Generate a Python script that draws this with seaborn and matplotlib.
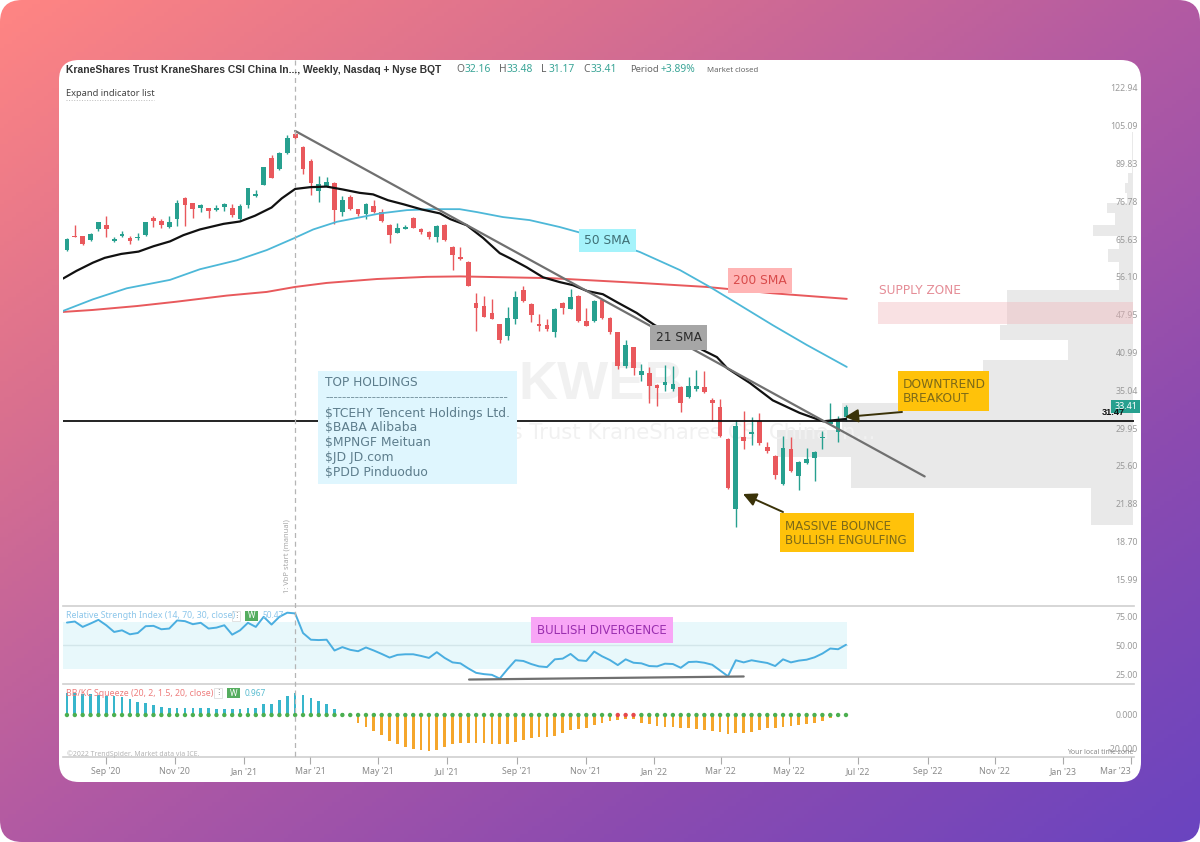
import numpy as np
import matplotlib
matplotlib.use('Agg')
import matplotlib.pyplot as plt
from matplotlib.colors import LinearSegmentedColormap
from matplotlib.patches import FancyBboxPatch, Rectangle, FancyArrowPatch
import seaborn as sns

sns.set_theme(style='white')
plt.rcParams['font.family'] = ['DejaVu Sans']

# weekly candles, one per week, oldest first
open_prices = [62.7, 66.6, 66.5, 65.3, 68.5, 69.6, 65.2, 66.5, 65.8, 65.9,
               66.7, 71.5, 70.8, 68.9, 71.4, 77.9, 76.1, 74.7, 74.7, 73.9,
               75.0, 74.6, 71.2, 75.6, 78.4, 82.2, 91.8, 87.6, 93.9, 101.7,
               96.0, 90.8, 80.0, 81.7, 82.9, 73.3, 78.0, 74.2, 72.8, 75.2,
               73.4, 69.7, 67.4, 68.5, 71.6, 68.3, 67.7, 66.3, 69.6, 63.6,
               61.0, 59.6, 50.4, 49.8, 48.3, 46.1, 43.9, 47.0, 53.2, 50.2,
               46.2, 45.9, 44.6, 50.4, 49.1, 51.8, 46.8, 46.8, 50.9, 47.3,
               44.6, 38.8, 41.9, 37.3, 37.7, 35.8, 35.8, 35.2, 35.5, 34.1,
               35.2, 35.5, 33.7, 32.7, 28.6, 21.4, 28.8, 29.2, 30.8, 27.7,
               26.7, 23.7, 27.4, 24.5, 25.9, 26.4, 28.7, 30.5, 29.5, 31.3]
close_prices = [65.6, 66.3, 64.3, 67.1, 70.3, 68.3, 65.6, 67.1, 65.0, 66.3,
                70.4, 70.6, 69.5, 70.4, 76.1, 75.6, 74.5, 75.7, 73.6, 74.7,
                76.0, 72.4, 75.2, 81.0, 79.1, 88.4, 84.7, 93.9, 100.0, 99.8,
                87.6, 82.9, 82.4, 83.0, 73.9, 77.1, 74.3, 72.8, 76.0, 73.4,
                70.6, 66.7, 68.7, 69.0, 68.8, 67.5, 66.3, 69.3, 65.3, 61.3,
                60.4, 54.1, 49.3, 47.5, 47.1, 43.1, 47.3, 51.5, 50.7, 47.9,
                45.8, 45.1, 49.0, 49.2, 51.6, 46.8, 45.8, 50.8, 47.3, 44.6,
                38.8, 42.2, 38.5, 38.0, 35.6, 35.3, 36.3, 35.9, 33.3, 35.6,
                35.7, 34.8, 33.3, 29.0, 23.4, 30.2, 28.4, 29.5, 28.1, 27.2,
                24.6, 27.6, 25.1, 26.0, 26.3, 27.1, 28.8, 30.6, 30.8, 32.7]
high_prices = [65.8, 69.7, 66.6, 67.4, 70.4, 72.1, 66.1, 68.0, 66.4, 67.2,
               70.5, 72.1, 71.4, 72.1, 77.1, 78.0, 76.3, 75.8, 74.8, 75.5,
               76.2, 75.8, 76.0, 81.1, 80.6, 88.6, 93.0, 94.0, 101.0, 102.8,
               96.5, 91.6, 85.2, 85.0, 83.1, 78.4, 78.8, 74.4, 76.2, 77.3,
               74.4, 69.9, 70.2, 69.6, 71.8, 68.6, 68.0, 69.5, 69.8, 63.7,
               63.5, 59.8, 52.5, 51.8, 51.1, 46.2, 49.5, 52.9, 54.0, 50.3,
               48.0, 47.1, 49.2, 50.6, 53.4, 52.0, 49.2, 50.9, 51.1, 47.4,
               44.7, 43.2, 42.0, 39.0, 38.6, 35.9, 38.9, 38.8, 35.6, 37.0,
               38.1, 37.9, 34.0, 33.8, 28.7, 31.0, 32.1, 31.4, 31.9, 28.3,
               26.8, 29.0, 28.9, 26.1, 27.6, 27.2, 29.6, 33.3, 31.5, 33.0]
low_prices = [62.5, 66.1, 64.0, 65.2, 67.9, 66.1, 64.7, 66.3, 64.3, 65.4,
              66.5, 69.1, 68.7, 68.6, 69.3, 69.3, 71.7, 73.5, 71.5, 73.8,
              73.8, 72.0, 71.0, 74.8, 78.0, 82.0, 84.4, 87.3, 93.6, 99.5,
              86.1, 78.8, 76.6, 81.5, 70.0, 72.2, 74.1, 72.3, 71.2, 73.2,
              70.4, 64.5, 67.2, 68.3, 68.6, 67.0, 65.6, 64.7, 65.1, 57.7,
              60.2, 53.9, 44.8, 47.4, 47.0, 42.6, 43.2, 46.2, 50.6, 46.5,
              44.9, 44.9, 43.7, 48.1, 49.0, 46.6, 45.7, 46.6, 47.1, 44.3,
              38.2, 38.5, 37.4, 36.4, 33.2, 32.8, 35.0, 34.9, 32.0, 34.0,
              35.0, 34.6, 30.9, 28.9, 23.3, 19.9, 27.4, 27.9, 27.9, 27.0,
              24.2, 23.6, 25.0, 23.2, 25.8, 24.0, 27.5, 30.5, 28.3, 30.9]

# moving averages at a few weeks each
sma21_weeks = [-0.5, 1.2, 3.3, 4.8, 6.9, 9.1, 11.0, 13.1, 14.8, 16.9, 19.9, 22.0, 23.9, 26.0, 27.3, 29.0,
               30.9, 33.0, 35.1, 37.2, 38.9, 40.8, 42.8, 45.1, 47.4, 48.7, 50.8, 52.9, 55.0, 56.3, 58.4,
               60.5, 62.6, 64.3, 66.1, 68.1, 69.9, 72.4, 74.7, 77.9, 80.8, 82.6, 83.9, 86.8, 89.7, 93.1, 96.1, 99.0]
sma21_values = [55.7, 57.5, 59.5, 60.7, 61.7, 62.3, 63.7, 65.0, 66.7, 68.3, 69.9, 70.6, 72.3, 74.8, 77.7, 80.8,
                81.4, 81.6, 80.6, 79.5, 79.0, 77.1, 75.8, 74.2, 73.0, 71.3, 69.5, 65.9, 61.9, 60.6, 58.4,
                56.0, 54.9, 54.2, 52.9, 52.2, 50.5, 48.3, 45.9, 43.5, 41.4, 40.2, 38.4, 36.1, 33.6, 31.9, 30.8, 31.1]
sma50_weeks = [-0.5, 3.3, 7.6, 13.1, 16.9, 21.6, 25.4, 28.8, 31.3, 34.3, 37.2, 39.8, 43.2, 46.6, 49.9, 52.1,
               55.4, 58.8, 62.6, 67.7, 72.8, 77.9, 81.7, 85.5, 89.7, 94.0, 99.1]
sma50_values = [48.7, 51.1, 53.5, 55.4, 57.9, 60.1, 62.7, 65.8, 68.3, 70.5, 71.8, 73.0, 74.0, 74.3, 74.3, 73.4,
                71.9, 71.0, 69.0, 65.9, 62.2, 57.7, 53.8, 49.9, 45.9, 42.3, 38.6]
sma200_weeks = [-0.5, 3.3, 8.9, 13.9, 20.3, 25.4, 29.0, 33.0, 39.4, 45.7, 50.0, 61.4, 72.8, 81.3, 89.7, 99.1]
sma200_values = [48.5, 48.9, 49.7, 50.6, 51.9, 52.7, 53.8, 54.7, 55.6, 56.1, 56.2, 55.8, 54.7, 53.8, 52.4, 51.2]

trend_weeks = [29, 109]
trend_prices = [102.8, 24.5]
# where the black level line sits on the price scale in the picture
level_price = 30.85

# volume by price, bands on the right edge
vp_low = [86.3, 82.8, 79.4, 76.2, 73.1, 69.5, 66.4, 62.9, 59.6, 53.1, 45.9, 43.2, 39.7, 33.2, 29.7, 26.55, 23.35, 20.0]
vp_high = [102.3, 86.3, 82.8, 79.4, 76.2, 73.1, 69.5, 66.4, 62.9, 59.6, 53.1, 45.9, 43.2, 39.7, 33.2, 29.7, 26.55, 23.35]
vp_volume = [0.13, 0.64, 1.0, 0.76, 3.3, 2.3, 5.1, 1.8, 3.2, 1.8, 16.0, 16.9, 8.3, 19.1, 37.0, 45.2, 35.8, 5.3]

rsi_values = [69.5, 70.4, 65.8, 68.7, 71.8, 67.2, 61.5, 62.9, 59.5, 60.6,
              66.4, 66.7, 63.8, 64.4, 71.3, 70.7, 68.1, 69.3, 64.4, 65.2,
              67.2, 59.2, 62.9, 69.3, 65.8, 74.4, 67.8, 74.4, 77.9, 77.3,
              60.6, 54.9, 54.6, 54.9, 45.7, 48.6, 46.3, 45.1, 48.3, 45.7,
              42.8, 39.7, 42.0, 42.5, 42.5, 41.1, 39.4, 44.3, 39.4, 35.6,
              34.8, 30.5, 26.7, 25.6, 25.0, 21.8, 29.9, 37.4, 36.8, 34.2,
              32.2, 31.6, 38.2, 38.8, 42.8, 37.4, 36.8, 44.8, 40.8, 37.6,
              33.3, 38.2, 35.3, 34.8, 32.5, 32.2, 34.5, 34.2, 31.0, 35.9,
              36.2, 35.3, 33.6, 28.7, 23.8, 37.4, 35.6, 37.4, 36.2, 35.1,
              32.5, 38.2, 35.6, 37.1, 37.9, 39.9, 43.1, 47.4, 46.8, 50.6]
divergence_weeks = [51.1, 86.0]
divergence_rsi = [21.0, 23.6]

squeeze_values = [12.8, 12.8, 12.4, 12.2, 11.8, 11.4, 11.4, 10.8, 9.2, 7.9,
                  6.9, 5.7, 4.9, 3.9, 3.9, 3.9, 4.1, 4.3, 3.9, 3.3,
                  3.5, 3.5, 3.3, 3.9, 4.3, 6.3, 6.5, 8.9, 11.0, 12.8,
                  11.8, 10.2, 8.5, 6.3, 3.5, 1.0, 0.6, -4.9, -6.9, -9.2,
                  -11.8, -15.1, -17.1, -18.7, -20.1, -20.7, -21.4, -20.7, -18.9, -17.1,
                  -16.7, -16.7, -16.5, -16.7, -16.9, -17.3, -17.3, -15.9, -14.9, -13.8,
                  -13.2, -12.8, -12.2, -10.4, -8.9, -8.5, -7.9, -5.9, -4.9, -3.5,
                  -3.0, -2.6, -2.6, -4.5, -5.3, -6.3, -6.9, -7.3, -7.5, -7.9,
                  -8.3, -8.9, -9.4, -9.8, -11.0, -10.4, -10.4, -9.8, -8.9, -7.9,
                  -7.5, -7.1, -6.5, -5.9, -5.3, -4.9, -3.3, -2.0, 0.3, 0.967]
squeeze_on_weeks = [70, 71, 72]

price_ticks = [122.94, 105.09, 89.83, 76.78, 65.63, 56.10, 47.95, 40.99, 35.04, 29.95, 25.60, 21.88, 18.70, 15.99]
price_labels = ['122.94', '105.09', '89.83', '76.78', '65.63', '56.10', '47.95', '40.99', '35.04', '29.95',
                '25.60', '21.88', '18.70', '15.99']
date_ticks = [4.96, 13.7, 22.5, 30.9, 39.5, 48.3, 57.2, 65.9, 74.6, 83.1, 91.7, 100.5, 109.4, 117.9, 126.6, 135.2]
date_labels = ["Sep '20", "Nov '20", "Jan '21", "Mar '21", "May '21", "Jul '21", "Sep '21", "Nov '21",
               "Jan '22", "Mar '22", "May '22", "Jul '22", "Sep '22", "Nov '22", "Jan '23", "Mar '23"]
holdings = ['$TCEHY Tencent Holdings Ltd.', '$BABA Alibaba', '$MPNGF Meituan', '$JD JD.com', '$PDD Pinduoduo']

GREEN = '#27a08f'
RED = '#e9585c'
W, H = 1200, 842
UI_FONT = 'Noto Sans'
BOLD_FONT = 'Liberation Sans'


def axes_px(x0, y0, x1, y1, **kw):
    # axes from picture pixels, y going down
    return fig.add_axes([x0 / W, 1 - y1 / H, (x1 - x0) / W, (y1 - y0) / H], **kw)


def right_labels(axis):
    # value labels sit inside the plot, flush with the right edge
    axis.set_axisbelow(False)
    axis.yaxis.tick_right()
    axis.tick_params(axis='y', length=0, pad=3, labelsize=6.3, labelcolor='#9a9a9a')
    for lab in axis.get_yticklabels():
        lab.set_horizontalalignment('right')
        lab.set_family(UI_FONT)


weeks = np.arange(len(open_prices))
opens = np.array(open_prices)
closes = np.array(close_prices)
up = closes >= opens
week_min, week_max = -0.5, 135.6

fig = plt.figure(figsize=(W / 100, H / 100), dpi=100, facecolor='white')

# gradient behind the card
bg = fig.add_axes([0, 0, 1, 1], zorder=-2)
bg.axis('off')
gx, gy = np.meshgrid(np.linspace(0, 1, 300), np.linspace(0, 1, 210))
grad = LinearSegmentedColormap.from_list('g', ['#ff8583', '#d9708f', '#b25aa3', '#8c4bb0', '#6a44c0'])
img = bg.imshow((gx + gy) / 2, cmap=grad, extent=(0, W, H, 0), aspect='auto', vmin=0, vmax=1)
bg.set_xlim(0, W)
bg.set_ylim(H, 0)
outer = FancyBboxPatch((16, 16), W - 32, H - 32, boxstyle='round,pad=16,rounding_size=22',
                       transform=bg.transData, fc='none', ec='none')
bg.add_patch(outer)
img.set_clip_path(outer)
bg.add_patch(FancyBboxPatch((79, 80), 1042, 682, boxstyle='round,pad=20,rounding_size=20',
                            fc='white', ec='none'))

# price panel
ax = axes_px(63, 80, 1134, 606, facecolor='none')
ax.set_yscale('log')
vp_low_arr = np.array(vp_low)
vp_high_arr = np.array(vp_high)
vp_vol_arr = np.array(vp_volume)
ax.barh(vp_low_arr, vp_vol_arr, height=vp_high_arr - vp_low_arr, left=135.45 - vp_vol_arr,
        align='edge', color='#e9e9e9', linewidth=0, zorder=1)
ax.text(67.9, 35.8, 'KWEB', fontsize=39, fontweight='bold', family=BOLD_FONT, color='#f1f1f1',
        ha='center', va='center', zorder=1.5)
ax.text(102.7, 29.3, 'KraneShares Trust KraneShares CSI China In...', fontsize=15.2, color='#f1f1f1',
        ha='right', va='center', zorder=1.5)

ax.vlines(weeks, low_prices, high_prices, colors=[GREEN if u else RED for u in up], linewidth=1.0, zorder=3)
ax.bar(weeks, np.maximum(np.abs(closes - opens), 0.15), bottom=np.minimum(opens, closes), width=0.6,
       color=[GREEN if u else RED for u in up], linewidth=0, zorder=3)

ax.axhline(level_price, color='#111111', linewidth=1.3, zorder=4)
sns.lineplot(x=sma200_weeks, y=sma200_values, ax=ax, color='#e8595c', linewidth=1.4, estimator=None, zorder=4)
sns.lineplot(x=sma50_weeks, y=sma50_values, ax=ax, color='#4db8d8', linewidth=1.3, estimator=None, zorder=4)
sns.lineplot(x=sma21_weeks, y=sma21_values, ax=ax, color='#111111', linewidth=1.6, estimator=None, zorder=5)
sns.lineplot(x=trend_weeks, y=trend_prices, ax=ax, color='#707070', linewidth=1.6, estimator=None, zorder=5)

ax.set_xlim(week_min, week_max)
ax.set_ylim(14.31, 127)
ax.set_xticks([])
ax.set_yticks(price_ticks, price_labels)
ax.minorticks_off()
right_labels(ax)
sns.despine(ax=ax, left=True, right=True, top=True, bottom=True)
ax.set_xlabel('')
ax.set_ylabel('')

# RSI panel
ax_rsi = axes_px(63, 606, 1134, 684, facecolor='none')
ax_rsi.fill_between([week_min, 99.1], 30, 70, color='#e8f8fb', linewidth=0, zorder=1)
ax_rsi.plot([week_min, 99.1], [50, 50], color='#d3e6ea', linewidth=1, zorder=2)
sns.lineplot(x=weeks, y=rsi_values, ax=ax_rsi, color='#4aaee0', linewidth=1.4, estimator=None, zorder=3)
sns.lineplot(x=divergence_weeks, y=divergence_rsi, ax=ax_rsi, color='#707070', linewidth=1.6, estimator=None, zorder=4)
ax_rsi.set_xlim(week_min, week_max)
ax_rsi.set_ylim(17.2, 83.6)
ax_rsi.set_xticks([])
ax_rsi.set_yticks([25, 50, 75], ['25.00', '50.00', '75.00'])
right_labels(ax_rsi)
sns.despine(ax=ax_rsi, left=True, right=True, bottom=True, top=False)
ax_rsi.spines['top'].set_color('#cfcfcf')
ax_rsi.spines['top'].set_linewidth(1.2)

# squeeze panel
ax_sq = axes_px(63, 684, 1134, 757, facecolor='none')
vals = np.array(squeeze_values)
ax_sq.bar(weeks, vals, width=0.34, color=['#38b6cc' if v > 0 else '#f5a62b' for v in vals], linewidth=0, zorder=2)
dot_colors = ['#e5484d' if w in squeeze_on_weeks else '#4caf50' for w in weeks]
ax_sq.scatter(weeks, np.zeros(len(weeks)), s=10, c=dot_colors, linewidths=0, zorder=3)
ax_sq.set_xlim(week_min, week_max)
ax_sq.set_ylim(-24.8, 18.3)
ax_sq.set_yticks([0, -20], ['0.000', '-20.000'])
right_labels(ax_sq)
ax_sq.set_xticks(date_ticks, date_labels)
ax_sq.tick_params(axis='x', bottom=True, length=5, width=0.8, color='#aaaaaa', pad=2, labelsize=6.3, labelcolor='#8a8a8a')
for lab in ax_sq.get_xticklabels():
    lab.set_family(UI_FONT)
ax_sq.get_xticklabels()[-1].set_horizontalalignment('right')
sns.despine(ax=ax_sq, left=True, right=True, bottom=False, top=False)
for side in ['top', 'bottom']:
    ax_sq.spines[side].set_color('#cfcfcf')
    ax_sq.spines[side].set_linewidth(1.2)

# annotations, placed in picture pixels
ov = fig.add_axes([0, 0, 1, 1], zorder=10, facecolor='none')
ov.set_xlim(0, W)
ov.set_ylim(H, 0)
ov.axis('off')


def box(x0, y0, x1, y1, color, alpha=1.0, zorder=3, edge='none'):
    ov.add_patch(Rectangle((x0, y0), x1 - x0, y1 - y0, fc=color, ec=edge, lw=0.6, alpha=alpha, zorder=zorder))


def put(x, y, s, color='#333333', size=7.5, **kw):
    kw.setdefault('va', 'center')
    ov.text(x, y, s, color=color, fontsize=size, zorder=6, **kw)


ov.plot([295, 295], [60, 757], color='#b5b5b5', linewidth=0.9, linestyle=(0, (4, 3)), zorder=2)
put(287, 556, '1: VbP start (manual)', color='#a8a8a8', size=5.4, rotation=90, ha='center', family=UI_FONT)

# header
put(66, 70, 'KraneShares Trust KraneShares CSI China In..., Weekly, Nasdaq + Nyse BQT', color='#333333',
    size=7.4, fontweight='bold', family=BOLD_FONT)
for lx, lab, vx, val in [(456, 'O', 465, '32.16'), (499, 'H', 507, '33.48'), (541, 'L', 549, '31.17'), (583, 'C', 591, '33.41')]:
    put(lx, 70, lab, color='#666666', size=7.4, family=UI_FONT)
    put(vx, 70, val, color='#3aa597', size=7.4, family=UI_FONT)
put(630, 70, 'Period', color='#666666', size=6.8, family=UI_FONT)
put(661, 70, '+3.89%', color='#3aa597', size=7.4, family=UI_FONT)
put(707, 70, 'Market closed', color='#666666', size=5.6, family=UI_FONT)
put(66, 94, 'Expand indicator list', color='#444444', size=6.7, family=UI_FONT)
ov.plot([66, 154], [100, 100], color='#bbbbbb', linewidth=0.7, linestyle=':')

# price tags
box(878, 302, 1133, 324, '#f2b8bd', alpha=0.42, zorder=1)
put(879, 291, 'SUPPLY ZONE', color='#e58d97', size=8.7)
put(1125, 412.5, '31.47', color='#111111', size=6.6, fontweight='bold', ha='right', family=BOLD_FONT)
box(1111, 400, 1140, 413, '#27a08f')
put(1125.5, 406.5, '33.41', color='white', size=6.4, ha='center', family=UI_FONT)

box(579, 229, 636, 252, '#a5f3fb')
put(607.5, 240.5, '50 SMA', color='#3f6f75', size=8.8, ha='center')
box(728, 268, 792, 293, '#ffb5b5')
put(760, 281, '200 SMA', color='#d94b4b', size=8.8, ha='center')
box(650, 325, 707, 350, '#a6a6a6')
put(678.5, 337.5, '21 SMA', color='#2b2b2b', size=8.8, ha='center')

box(318, 371, 517, 484, '#dff6fe')
put(325, 383, 'TOP HOLDINGS', color='#5d7d8c', size=8.75)
put(325, 398, '-' * 43, color='#7a97a3', size=9.5, family=UI_FONT)
for k, name in enumerate(holdings):
    put(325, 413 + k * 14.8, name, color='#5d7d8c', size=8.95)

box(898, 371, 989, 411, '#ffc20a')
put(903, 384, 'DOWNTREND', color='#7d6a18', size=8.8)
put(903, 399, 'BREAKOUT', color='#7d6a18', size=8.8)
box(780, 513, 914, 552, '#ffc20a')
put(785, 526, 'MASSIVE BOUNCE', color='#7d6a18', size=8.6)
put(785, 540, 'BULLISH ENGULFING', color='#7d6a18', size=8.6)
box(531, 617, 673, 643, '#f8a6f6')
put(602, 630, 'BULLISH DIVERGENCE', color='#9b2fb0', size=8.5, ha='center')

for tail, tip in [((902, 412), (845, 417)), ((783, 512), (743, 494))]:
    ov.add_patch(FancyArrowPatch(tail, tip, arrowstyle='-|>', mutation_scale=20, color='#3a3208',
                                 linewidth=1.4, shrinkA=0, shrinkB=0, zorder=5))

# indicator legends
put(66, 616, 'Relative Strength Index (14, 70, 30, close)', color='#8cc6ea', size=6.3, family=UI_FONT)
box(232, 611, 240, 621, 'white', edge='#dddddd')
put(236, 616, '⁝', color='#666666', size=6, ha='center')
box(245, 611, 258, 621, '#55ad5f')
put(251.5, 616, 'W', color='white', size=5.8, ha='center', family=UI_FONT)
put(263, 616, '50.47', color='#8cc6ea', size=6, family=UI_FONT)
put(66, 693, 'BB/KC Squeeze (20, 2, 1.5, 20, close)', color='#ee7d7d', size=6.3, family=UI_FONT)
box(214, 688, 222, 698, 'white', edge='#dddddd')
put(218, 693, '⁝', color='#666666', size=6, ha='center')
box(227, 688, 240, 698, '#55ad5f')
put(233.5, 693, 'W', color='white', size=5.8, ha='center', family=UI_FONT)
put(245, 693, '0.967', color='#58bcd0', size=6, family=UI_FONT)
put(67, 754, '©2022 TrendSpider. Market data via ICE.', color='#b5b5b5', size=5, family=UI_FONT)
put(1133, 752, 'Your local time zone', color='#8a8a8a', size=5, ha='right', family=UI_FONT)

fig.savefig('out.png', dpi=100)
